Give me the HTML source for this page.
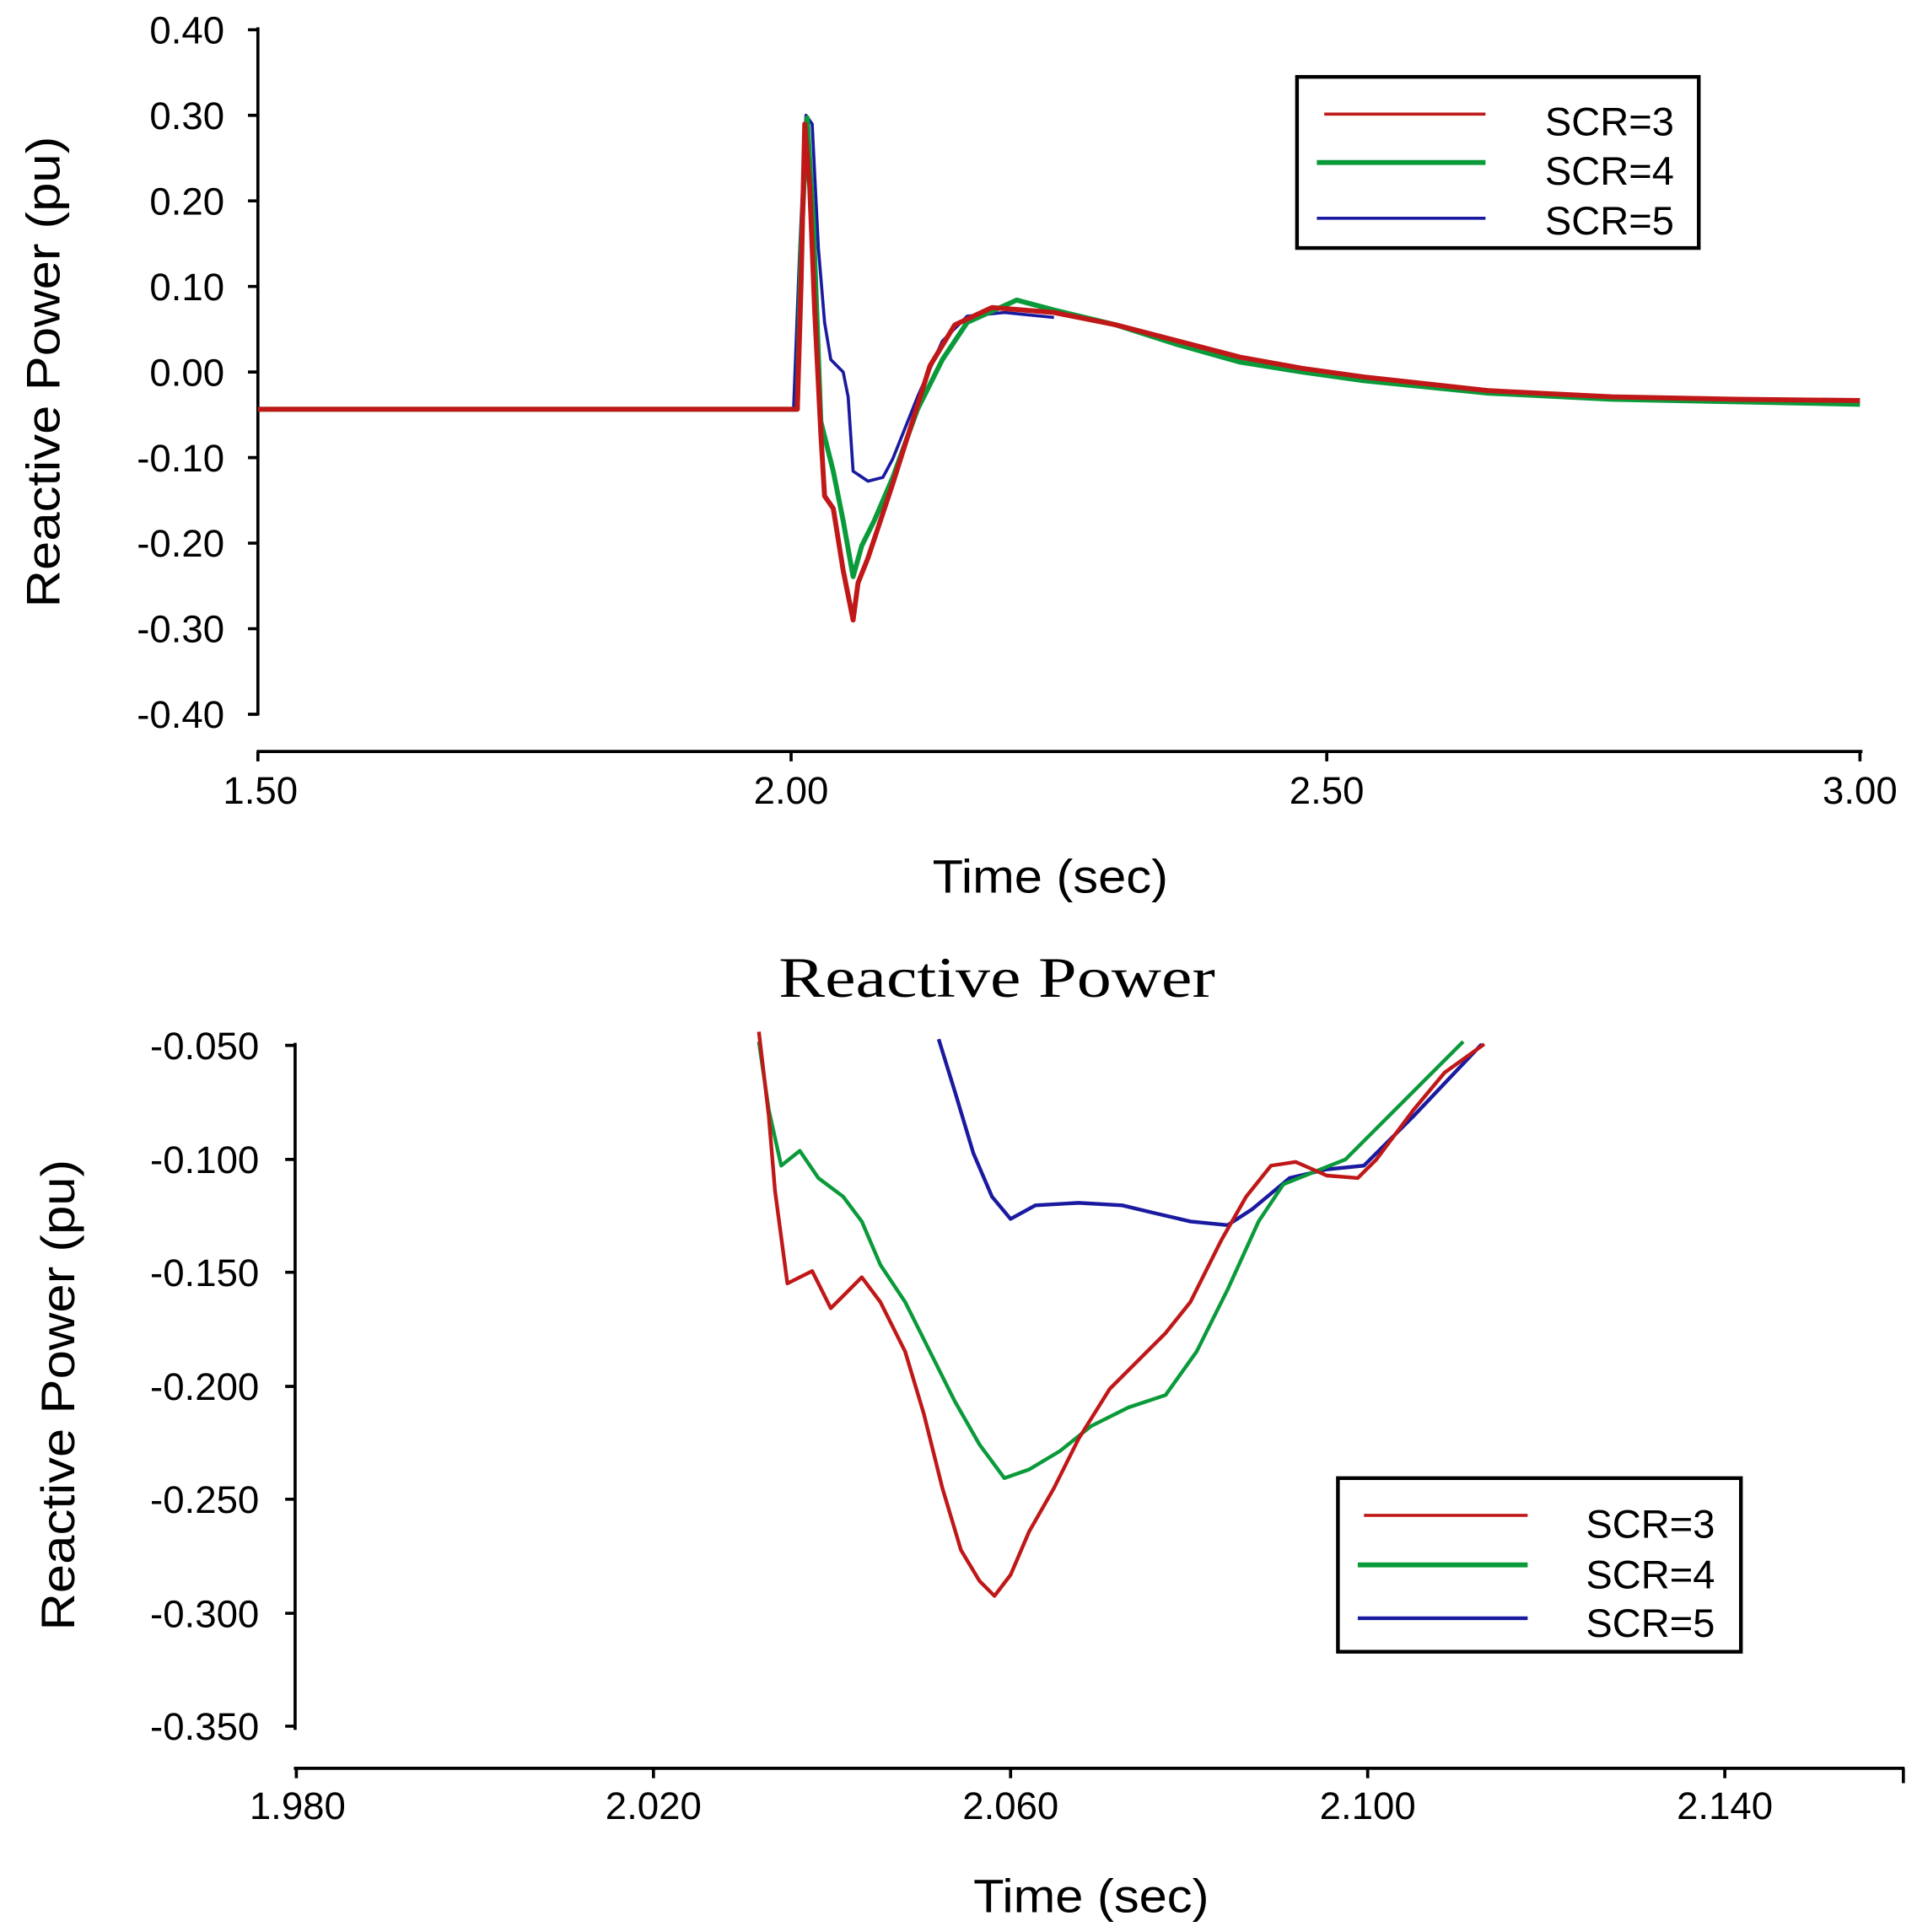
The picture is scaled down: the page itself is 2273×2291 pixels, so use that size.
<!DOCTYPE html>
<html><head><style>body{margin:0;background:#fff}svg{display:block}</style></head><body>
<svg width="2273" height="2291" viewBox="0 0 1546 1558" preserveAspectRatio="none" xmlns="http://www.w3.org/2000/svg" font-family="Liberation Sans, sans-serif">
<rect width="1546" height="1558" fill="#fff"/>
<!-- top chart -->
<g stroke="#000" stroke-width="2.5" fill="none">
<path d="M208 22V577M200 24H208M200 93H208M200 162H208M200 231H208M200 300H208M200 369H208M200 438H208M200 507H208M200 576H208"/>
<path d="M207 606H1502M208 606V614M638 606V614M1070 606V614M1500 606V614"/>
</g>
<g font-size="31" fill="#000" text-anchor="end">
<text x="181" y="35">0.40</text><text x="181" y="104">0.30</text><text x="181" y="173">0.20</text><text x="181" y="242">0.10</text><text x="181" y="311">0.00</text><text x="181" y="380">-0.10</text><text x="181" y="449">-0.20</text><text x="181" y="518">-0.30</text><text x="181" y="587">-0.40</text>
</g>
<g font-size="31" text-anchor="middle"><text x="210" y="648">1.50</text><text x="638" y="648">2.00</text><text x="1070" y="648">2.50</text><text x="1500" y="648">3.00</text></g>
<text x="752" y="720" font-size="38" textLength="190" lengthAdjust="spacingAndGlyphs">Time (sec)</text>
<text transform="translate(48,490) rotate(-90)" font-size="38" textLength="380" lengthAdjust="spacingAndGlyphs">Reactive Power  (pu)</text>
<g fill="none" stroke-linejoin="round">
<path stroke="#1a1aa0" stroke-width="2.5" d="M640 330L645 200L650 93L655 100L660 200L665 260L670 290L680 300L684 320L688 380L700 388L712 385L720 370L740 320L760 275L780 255L810 252L850 256"/>
<path stroke="#0a9a3a" stroke-width="4" d="M208 330H643L646 200L651 95L656 180L662 340L672 380L680 420L688 465L695 440L705 420L720 385L740 330L760 290L780 260L820 242L850 250L900 262L950 278L1000 292L1050 300L1100 307L1200 317L1300 322L1400 324L1500 326"/>
<path stroke="#c01818" stroke-width="4" d="M208 330H643L646 230L649 100L653 150L657 250L662 350L665 400L672 410L680 460L688 500L692 470L700 450L720 390L750 295L770 262L800 248L850 252L900 262L950 275L1000 288L1050 297L1100 304L1200 315L1300 320L1400 322L1500 323"/>
</g>
<rect x="1046" y="62" width="324" height="138" fill="#fff" stroke="#000" stroke-width="3"/>
<path d="M1068 92H1198" stroke="#c01818" stroke-width="2.5"/>
<path d="M1062 131H1198" stroke="#0a9a3a" stroke-width="4"/>
<path d="M1062 176H1198" stroke="#1a1aa0" stroke-width="2.5"/>
<g font-size="32"><text x="1246" y="109">SCR=3</text><text x="1246" y="149">SCR=4</text><text x="1246" y="189">SCR=5</text></g>
<!-- bottom chart -->
<text x="628" y="804" font-family="Liberation Serif, serif" font-size="46" textLength="352" lengthAdjust="spacingAndGlyphs">Reactive Power</text>
<g stroke="#000" stroke-width="2.5" fill="none">
<path d="M238 841V1395M230 843H238M230 935H238M230 1026H238M230 1118H238M230 1209H238M230 1301H238M230 1392H238"/>
<path d="M237 1426H1536M239 1426V1434M527 1426V1434M815 1426V1434M1103 1426V1434M1391 1426V1434M1535 1426V1438"/>
</g>
<g font-size="31" text-anchor="end">
<text x="209" y="854">-0.050</text><text x="209" y="946">-0.100</text><text x="209" y="1037">-0.150</text><text x="209" y="1129">-0.200</text><text x="209" y="1220">-0.250</text><text x="209" y="1312">-0.300</text><text x="209" y="1403">-0.350</text>
</g>
<g font-size="31" text-anchor="middle"><text x="240" y="1467">1.980</text><text x="527" y="1467">2.020</text><text x="815" y="1467">2.060</text><text x="1103" y="1467">2.100</text><text x="1391" y="1467">2.140</text></g>
<text x="785" y="1542" font-size="38" textLength="190" lengthAdjust="spacingAndGlyphs">Time (sec)</text>
<text transform="translate(60,1315) rotate(-90)" font-size="38" textLength="380" lengthAdjust="spacingAndGlyphs">Reactive Power  (pu)</text>
<g fill="none" stroke-linejoin="round" stroke-width="3">
<path stroke="#1a1aa0" d="M757 838L770 880L785 930L800 965L815 983L835 972L870 970L905 972L930 978L960 985L990 988L1010 975L1040 950L1070 943L1100 940L1140 900L1195 842"/>
<path stroke="#0a9a3a" d="M612 840L620 895L630 940L645 928L660 950L680 965L695 985L710 1020L730 1050L750 1090L770 1130L790 1165L810 1192L830 1185L855 1170L880 1150L910 1135L940 1125L965 1090L990 1040L1015 985L1035 955L1060 945L1085 935L1110 910L1140 880L1180 840"/>
<path stroke="#c01818" d="M612 832L620 900L625 960L635 1035L645 1030L655 1025L670 1055L680 1045L695 1030L710 1050L730 1090L745 1140L760 1200L775 1250L790 1275L802 1287L815 1270L830 1235L850 1200L870 1160L895 1120L920 1095L940 1075L960 1050L985 1000L1005 965L1025 940L1045 937L1070 948L1095 950L1110 935L1140 895L1165 865L1197 842"/>
</g>
<rect x="1079" y="1192" width="325" height="140" fill="#fff" stroke="#000" stroke-width="3"/>
<path d="M1100 1222H1232" stroke="#c01818" stroke-width="2.5"/>
<path d="M1095 1262H1232" stroke="#0a9a3a" stroke-width="4"/>
<path d="M1095 1305H1232" stroke="#1a1aa0" stroke-width="3"/>
<g font-size="32"><text x="1279" y="1240">SCR=3</text><text x="1279" y="1281">SCR=4</text><text x="1279" y="1320">SCR=5</text></g>
</svg>
</body></html>
